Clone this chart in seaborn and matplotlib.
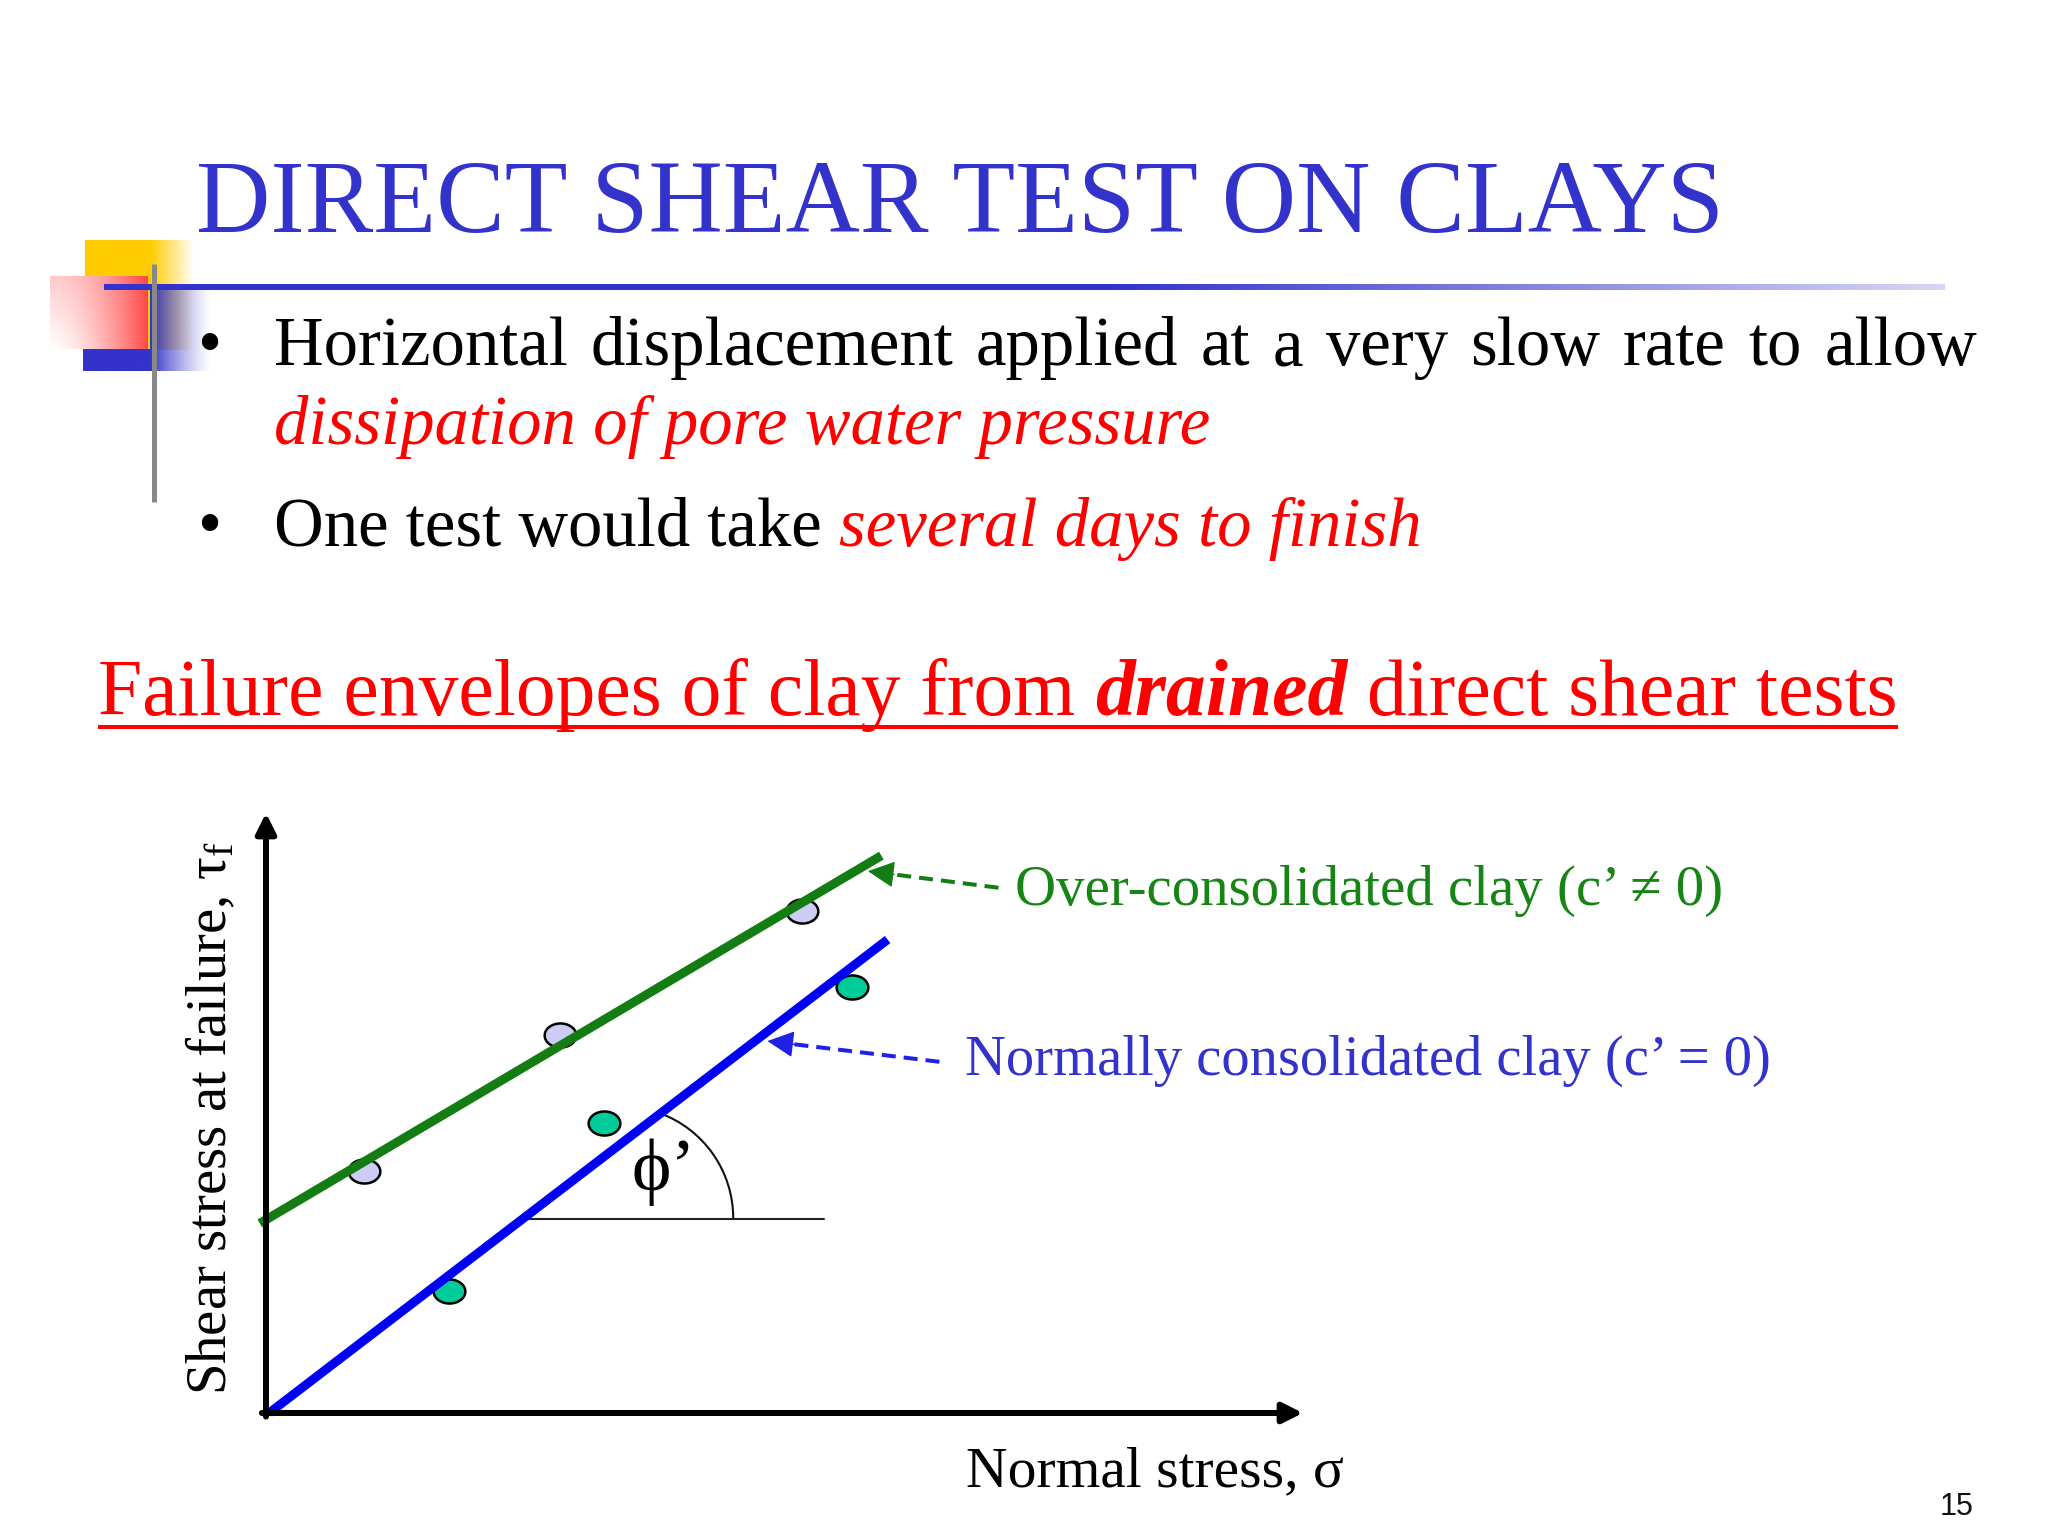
import numpy as np
import matplotlib
matplotlib.use("Agg")
import matplotlib.pyplot as plt
from matplotlib.patches import Arc
from matplotlib.path import Path
import seaborn as sns

# diagram data (sigma, tau in arbitrary stress units)
oc_sigma = [0.95, 2.84, 5.17]
oc_tau = [2.34, 3.65, 4.85]
nc_sigma = [1.77, 3.26, 5.66]
nc_tau = [1.18, 2.80, 4.11]
oc_env_sigma = [-0.06, 5.94]
oc_env_tau = [1.83, 5.38]
nc_env_sigma = [0.03, 6.00]
nc_env_tau = [0.0, 4.57]

# slide text
title = "DIRECT SHEAR TEST ON CLAYS"
bullet1 = "Horizontal displacement applied at a very slow rate to allow"
bullet1_red = "dissipation of pore water pressure"
bullet2 = "One test would take"
bullet2_red = "several days to finish"
sub_parts = ["Failure envelopes of clay from", "drained", "direct shear tests"]
oc_label = "Over-consolidated clay (c’ ≠ 0)"
nc_label = "Normally consolidated clay (c’ = 0)"
x_label = "Normal stress, σ"
y_label = r"Shear stress at failure, $\mathregular{\tau_f}$"
phi_label = "ϕ’"
page = "15"

BLUE_TXT = "#3333CC"
RED = "#FF0000"
GREEN = "#137D13"
GREEN_TXT = "#168516"
LINE_BLUE = "#0000F5"

sns.set_theme(style="white")
plt.rcParams["font.family"] = ["Liberation Serif", "DejaVu Serif"]
plt.rcParams["mathtext.fontset"] = "custom"
plt.rcParams["mathtext.rm"] = "Liberation Serif"
plt.rcParams["mathtext.it"] = "Liberation Serif:italic"

W, H = 2048, 1536
PT = 72 / 100  # points per pixel
fig = plt.figure(figsize=(20.48, 15.36), dpi=100, facecolor="white")
renderer = fig.canvas.get_renderer()

bg = fig.add_axes([0, 0, 1, 1])
bg.axis("off")


def grad(x0, x1, y0, y1, rgb, alpha, z=1, opaque=False):
    a = np.clip(alpha, 0, 1)
    img = np.ones(a.shape + (4,))
    if opaque:
        # blend with white instead of using transparency
        for i in range(3):
            img[..., i] = 1 - a * (1 - rgb[i])
    else:
        img[..., :3] = rgb
        img[..., 3] = a
    bg.imshow(img, extent=(x0, x1, y1, y0), origin="upper", aspect="auto",
              interpolation="bilinear", zorder=z)


# decoration in the top-left corner
xf = np.linspace(0, 1, 80)[None, :]
yf = np.linspace(0, 1, 80)[:, None]
grad(85, 195, 240, 350, (1.0, 0.80, 0.0),
     np.where(xf < 0.6, 1.0, 1 - (xf - 0.6) / 0.4) * np.ones_like(yf), z=1)
grad(50, 148, 276, 349, (1.0, 0.25, 0.25),
     xf ** 1.5 * 0.95 + 0.28 * (1 - yf) * (1 - xf), z=2, opaque=True)
grad(83, 150, 349, 371, (0.2, 0.2, 0.8), np.ones((80, 80)), z=2)
grad(150, 212, 287, 371, (0.2, 0.2, 0.8), (1 - xf) ** 1.3 * np.ones_like(yf), z=2)
rule = np.linspace(0, 1, 400)[None, :]
grad(104, 1945, 284, 290, (0.2, 0.2, 0.8),
     np.where(rule < 0.55, 1.0, 1 - 0.8 * (rule - 0.55) / 0.45) * np.ones((4, 1)), z=3)
bg.plot([154, 154], [264, 502], color="#888888", lw=5 * PT, zorder=4,
        solid_capstyle="butt")
bg.set_xlim(0, W)
bg.set_ylim(H, 0)


def fit(t, width=None, height=None):
    bb = t.get_window_extent(renderer)
    if width is not None:
        t.set_fontsize(t.get_fontsize() * width / bb.width)
    else:
        t.set_fontsize(t.get_fontsize() * height / bb.height)


def place_row(x, y, parts, fs, gap):
    for txt, kw in parts:
        t = bg.text(x, y, txt, fontsize=fs, va="baseline", **kw)
        x += t.get_window_extent(renderer).width + gap
    return x - gap


# title
t = bg.text(196, 232, title, fontsize=74, color=BLUE_TXT, va="baseline")
fit(t, width=1528)

# bullets
fs_b = 49.5
for y in (365, 546):
    bg.text(209, y, "•", fontsize=fs_b, color="black", va="baseline", ha="center")
words = bullet1.split()
objs = [bg.text(0, 365, w, fontsize=fs_b, va="baseline", color="black") for w in words]
widths = [o.get_window_extent(renderer).width for o in objs]
gap = (1977 - 274 - sum(widths)) / (len(words) - 1)
x = 274
for o, w in zip(objs, widths):
    o.set_x(x)
    x += w + gap
bg.text(274, 444, bullet1_red, fontsize=fs_b, color=RED, style="italic", va="baseline")
space = 0.25 * fs_b / PT
place_row(274, 546, [(bullet2, dict(color="black")),
                     (bullet2_red, dict(color=RED, style="italic"))], fs_b, space)

# red underlined subtitle
fs_s = 57.3
space = 0.25 * fs_s / PT
x_end = place_row(98, 715, [(sub_parts[0], dict(color=RED)),
                            (sub_parts[1], dict(color=RED, style="italic", weight="bold")),
                            (sub_parts[2], dict(color=RED))], fs_s, space)
bg.plot([98, x_end], [727, 727], color=RED, lw=4 * PT, solid_capstyle="butt")

# axis labels and page number
t = bg.text(1155, 1472, x_label, fontsize=40, ha="center", va="center", color="black")
fit(t, width=377)
t = bg.text(212, 1118, y_label, fontsize=40, ha="center", va="center",
            rotation=90, color="black")
fit(t, height=553)
bg.text(1957, 1507, page, fontsize=22, ha="center", va="center",
        family="Liberation Sans", color="#111111")

# diagram axes: origin at (266, 1413) px, 103.6 px per unit
ax = fig.add_axes([266 / W, 1 - 1413 / H, (1303 - 266) / W, (1413 - 813) / H])
ax.set_xlim(0, (1303 - 266) / 103.6)
ax.set_ylim(0, (1413 - 813) / 103.6)
ax.set_axis_off()

ellipse = Path(np.column_stack([np.cos(np.linspace(0, 2 * np.pi, 60)),
                                0.76 * np.sin(np.linspace(0, 2 * np.pi, 60))]), closed=True)
sns.scatterplot(x=oc_sigma, y=oc_tau, ax=ax, marker=ellipse, s=520,
                color="#CCCCF4", edgecolor="black", linewidth=1.8, zorder=2)
sns.scatterplot(x=nc_sigma, y=nc_tau, ax=ax, marker=ellipse, s=520,
                color="#00CC99", edgecolor="black", linewidth=1.8, zorder=2)
sns.lineplot(x=oc_env_sigma, y=oc_env_tau, ax=ax, color=GREEN, lw=9 * PT, zorder=3)
sns.lineplot(x=nc_env_sigma, y=nc_env_tau, ax=ax, color=LINE_BLUE, lw=9 * PT, zorder=3)
for ln in ax.lines:
    ln.set_clip_on(False)
    ln.set_solid_capstyle("butt")

# coordinate axes with arrowheads
arrow_kw = dict(arrowstyle="-|>", color="black", lw=6 * PT, mutation_scale=30,
                shrinkA=0, shrinkB=0)
ax.annotate("", xy=(1, 0), xytext=(-0.004, 0), xycoords="axes fraction",
            arrowprops=arrow_kw, annotation_clip=False)
ax.annotate("", xy=(0, 1), xytext=(0, -0.006), xycoords="axes fraction",
            arrowprops=arrow_kw, annotation_clip=False)

# friction angle
ax.plot([2.52, 5.39], [1.873, 1.873], color="#222222", lw=1.5, clip_on=False)
ax.add_patch(Arc((3.43, 1.88), 2.16, 2.16, theta1=0, theta2=70,
                 color="#111111", lw=1.5))
ax.text(3.84, 2.32, phi_label, fontsize=54, ha="center", va="center", color="black")


def dashed_arrow(x0, y0, x1, y1, color):
    ax.plot([x0, x1 + (x0 - x1) * 0.1], [y0, y1 + (y0 - y1) * 0.1], ls=(0, (3.5, 2)),
            lw=4 * PT, color=color, clip_on=False)
    ax.annotate("", xy=(x1, y1), xytext=(x1 + (x0 - x1) * 0.2, y1 + (y0 - y1) * 0.2),
                arrowprops=dict(arrowstyle="-|>", color=color, lw=1,
                                mutation_scale=42, shrinkA=0, shrinkB=0),
                annotation_clip=False)


dashed_arrow(7.07, 5.07, 5.81, 5.23, GREEN)
dashed_arrow(6.50, 3.39, 4.84, 3.59, "#2020E6")
t = ax.text(7.23, 5.04, oc_label, fontsize=40, color=GREEN_TXT, va="center", ha="left")
fit(t, width=708)
t = ax.text(6.75, 3.40, nc_label, fontsize=40, color=BLUE_TXT, va="center", ha="left")
fit(t, width=806)

fig.savefig("out.png", dpi=100, facecolor="white")
